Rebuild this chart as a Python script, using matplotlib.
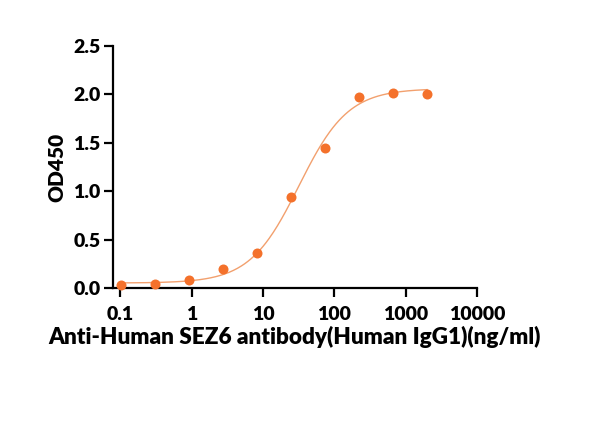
import numpy as np
import matplotlib
matplotlib.use("Agg")
import matplotlib.pyplot as plt

# concentrations (ng/ml) and measured OD450
conc = [0.1016, 0.305, 0.914, 2.74, 8.23, 24.69, 74.07, 222.2, 666.7, 2000.0]
od450 = [0.035, 0.045, 0.085, 0.20, 0.365, 0.94, 1.445, 1.975, 2.01, 2.005]

# 4PL fit parameters
fit_bottom = 0.055
fit_top = 2.06
fit_ec50 = 32.0
fit_hill = 1.26

xticks = [0.1, 1, 10, 100, 1000, 10000]
xtick_labels = ["0.1", "1", "10", "100", "1000", "10000"]
yticks = [0.0, 0.5, 1.0, 1.5, 2.0, 2.5]

plt.rcParams['font.family'] = ['Lato', 'DejaVu Sans']
wt = "heavy"

fig = plt.figure(figsize=(5.97, 4.21), dpi=100)
ax = fig.add_axes([0.189, 0.315, 0.610, 0.576])

xs = np.logspace(np.log10(conc[0]), np.log10(conc[-1]), 300)
ys = fit_bottom + (fit_top - fit_bottom) / (1 + (fit_ec50 / xs) ** fit_hill)
ax.plot(xs, ys, color="#F2A06E", lw=1.0, zorder=2)
ax.plot(conc, od450, "o", color="#F4712B", ms=7.2, mec="none", zorder=3, clip_on=False)

ax.set_xscale("log")
ax.set_xlim(0.079, 10000)
ax.set_ylim(0, 2.5)
ax.set_xticks(xticks)
ax.set_xticklabels(xtick_labels)
ax.minorticks_off()
ax.set_yticks(yticks)
ax.set_yticklabels(["%.1f" % v for v in yticks])

for s in ["top", "right"]:
    ax.spines[s].set_visible(False)
for s in ["left", "bottom"]:
    ax.spines[s].set_linewidth(1.6)
ax.tick_params(width=1.6, length=6.5, labelsize=14)
ax.tick_params(axis="x", pad=6.5)
ax.tick_params(axis="y", pad=2.5)
for lab in ax.get_xticklabels() + ax.get_yticklabels():
    lab.set_fontweight(wt)

ax.set_xlabel("Anti-Human SEZ6 antibody(Human IgG1)(ng/ml)", fontsize=16.2,
              fontweight=wt, labelpad=2)
ax.set_ylabel("OD450", fontsize=15, fontweight=wt, labelpad=5)

fig.savefig("out.png", dpi=100)
